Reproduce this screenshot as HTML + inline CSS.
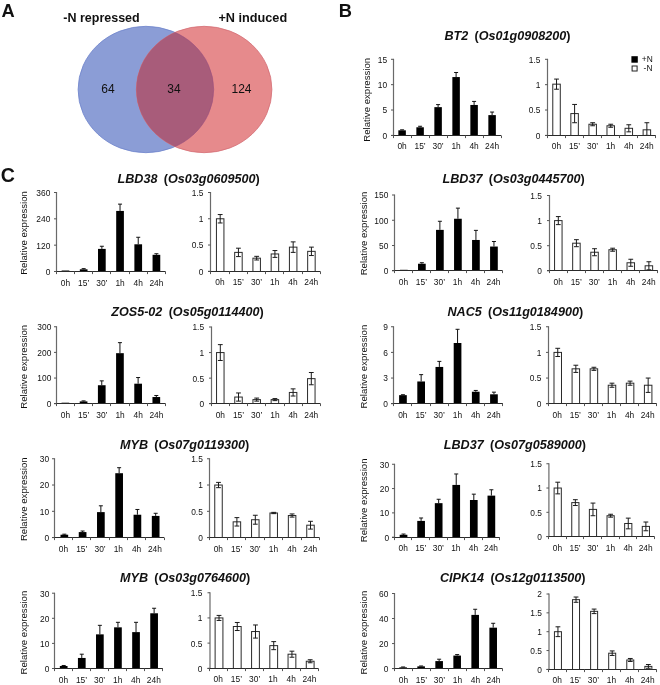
<!DOCTYPE html>
<html><head><meta charset="utf-8"><title>Figure</title>
<style>html,body{margin:0;padding:0;background:#fff;overflow:hidden;}svg{display:block;}</style>
</head><body>
<svg width="660" height="685" viewBox="0 0 660 685" font-family="'Liberation Sans', Arial, sans-serif" fill="#111">
<defs><clipPath id="cb"><ellipse cx="145.9" cy="89.5" rx="67.8" ry="63.2"/></clipPath><clipPath id="cr"><ellipse cx="204.1" cy="89.5" rx="67.8" ry="63.2"/></clipPath></defs>
<ellipse cx="145.9" cy="89.5" rx="67.8" ry="63.2" fill="#8b9dd6" stroke="#6f84cc" stroke-width="0.8"/>
<ellipse cx="204.1" cy="89.5" rx="67.8" ry="63.2" fill="#e68a8c" stroke="#d46f76" stroke-width="0.8"/>
<ellipse cx="204.1" cy="89.5" rx="67.8" ry="63.2" fill="#a85c7a" clip-path="url(#cb)"/>
<ellipse cx="145.9" cy="89.5" rx="67.8" ry="63.2" fill="none" stroke="#9a5080" stroke-width="0.6" clip-path="url(#cr)"/>
<text x="108" y="92.5" font-size="12" text-anchor="middle">64</text>
<text x="174" y="92.5" font-size="12" text-anchor="middle">34</text>
<text x="241.5" y="92.5" font-size="12" text-anchor="middle">124</text>
<text x="101.5" y="22" font-size="12.5" font-weight="bold" text-anchor="middle">-N repressed</text>
<text x="252.8" y="22" font-size="12.7" font-weight="bold" text-anchor="middle">+N induced</text>
<text x="1.6" y="17" font-size="18.3" font-weight="bold">A</text>
<text x="338.8" y="16.8" font-size="18.3" font-weight="bold">B</text>
<text x="0.8" y="181.8" font-size="19.6" font-weight="bold">C</text>
<rect x="631.4" y="56.2" width="6.4" height="6.5" fill="#000"/>
<rect x="632.1" y="66" width="5" height="5" fill="#fff" stroke="#222" stroke-width="1"/>
<text x="641.8" y="62.4" font-size="8.4">+N</text>
<text x="643.6" y="71.2" font-size="8.4">-N</text>
<text x="444.4" y="40" font-size="12.6" font-weight="bold"><tspan font-style="italic">BT2</tspan> (<tspan font-style="italic">Os01g0908200</tspan>)</text>
<rect x="398.35" y="130.33" width="7.5" height="5.17" fill="#000"/>
<path d="M402.1 129.82V130.33M400.1 129.82H404.1" stroke="#111" stroke-width="1" fill="none"/>
<rect x="416.35" y="127.28" width="7.5" height="8.22" fill="#000"/>
<path d="M420.1 126.27V127.28M418.1 126.27H422.1" stroke="#111" stroke-width="1" fill="none"/>
<rect x="434.35" y="107.14" width="7.5" height="28.36" fill="#000"/>
<path d="M438.1 104.6V107.14M436.1 104.6H440.1" stroke="#111" stroke-width="1" fill="none"/>
<rect x="452.35" y="77.06" width="7.5" height="58.44" fill="#000"/>
<path d="M456.1 72.49V77.06M454.1 72.49H458.1" stroke="#111" stroke-width="1" fill="none"/>
<rect x="470.35" y="104.96" width="7.5" height="30.54" fill="#000"/>
<path d="M474.1 101.41V104.96M472.1 101.41H476.1" stroke="#111" stroke-width="1" fill="none"/>
<rect x="488.35" y="115.11" width="7.5" height="20.39" fill="#000"/>
<path d="M492.1 112.06V115.11M490.1 112.06H494.1" stroke="#111" stroke-width="1" fill="none"/>
<path d="M393.5 58.8V135.5" stroke="#6a6a6a" stroke-width="1.2" fill="none"/>
<path d="M391 135.5H501.1" stroke="#2a2a2a" stroke-width="1" fill="none"/>
<path d="M391 135.4H393.5" stroke="#555" stroke-width="1"/>
<text x="387.2" y="138.8" font-size="8.4" text-anchor="end">0</text>
<path d="M391 110.03H393.5" stroke="#555" stroke-width="1"/>
<text x="387.2" y="113.43" font-size="8.4" text-anchor="end">5</text>
<path d="M391 84.67H393.5" stroke="#555" stroke-width="1"/>
<text x="387.2" y="88.07" font-size="8.4" text-anchor="end">10</text>
<path d="M391 59.3H393.5" stroke="#555" stroke-width="1"/>
<text x="387.2" y="62.7" font-size="8.4" text-anchor="end">15</text>
<path d="M393.5 135.5V138.1" stroke="#555" stroke-width="1"/>
<path d="M411.5 135.5V138.1" stroke="#555" stroke-width="1"/>
<path d="M429.5 135.5V138.1" stroke="#555" stroke-width="1"/>
<path d="M447.5 135.5V138.1" stroke="#555" stroke-width="1"/>
<path d="M465.5 135.5V138.1" stroke="#555" stroke-width="1"/>
<path d="M483.5 135.5V138.1" stroke="#555" stroke-width="1"/>
<path d="M501.5 135.5V138.1" stroke="#555" stroke-width="1"/>
<text x="402.1" y="149.4" font-size="8.4" text-anchor="middle">0h</text>
<text x="420.1" y="149.4" font-size="8.4" text-anchor="middle">15’</text>
<text x="438.1" y="149.4" font-size="8.4" text-anchor="middle">30’</text>
<text x="456.1" y="149.4" font-size="8.4" text-anchor="middle">1h</text>
<text x="474.1" y="149.4" font-size="8.4" text-anchor="middle">4h</text>
<text x="492.1" y="149.4" font-size="8.4" text-anchor="middle">24h</text>
<rect x="552.78" y="84.16" width="7.5" height="51.34" fill="#fff" stroke="#2a2a2a" stroke-width="1"/>
<path d="M556.53 79.09V89.23M554.13 79.09H558.93M554.13 89.23H558.93" stroke="#1a1a1a" stroke-width="1" fill="none"/>
<rect x="570.85" y="113.58" width="7.5" height="21.92" fill="#fff" stroke="#2a2a2a" stroke-width="1"/>
<path d="M574.6 104.45V122.72M572.2 104.45H577M572.2 122.72H577" stroke="#1a1a1a" stroke-width="1" fill="none"/>
<rect x="588.92" y="124.24" width="7.5" height="11.26" fill="#fff" stroke="#2a2a2a" stroke-width="1"/>
<path d="M592.67 122.72V125.76M590.27 122.72H595.07M590.27 125.76H595.07" stroke="#1a1a1a" stroke-width="1" fill="none"/>
<rect x="606.98" y="125.76" width="7.5" height="9.74" fill="#fff" stroke="#2a2a2a" stroke-width="1"/>
<path d="M610.73 124.24V127.28M608.33 124.24H613.13M608.33 127.28H613.13" stroke="#1a1a1a" stroke-width="1" fill="none"/>
<rect x="625.05" y="128.3" width="7.5" height="7.2" fill="#fff" stroke="#2a2a2a" stroke-width="1"/>
<path d="M628.8 124.75V131.85M626.4 124.75H631.2M626.4 131.85H631.2" stroke="#1a1a1a" stroke-width="1" fill="none"/>
<rect x="643.12" y="129.82" width="7.5" height="5.68" fill="#fff" stroke="#2a2a2a" stroke-width="1"/>
<path d="M646.87 122.72V135.4M644.47 122.72H649.27M644.47 135.4H649.27" stroke="#1a1a1a" stroke-width="1" fill="none"/>
<path d="M547.5 58.8V135.5" stroke="#6a6a6a" stroke-width="1.2" fill="none"/>
<path d="M545 135.5H655.8" stroke="#2a2a2a" stroke-width="1" fill="none"/>
<path d="M545 135.4H547.5" stroke="#555" stroke-width="1"/>
<text x="540.4" y="138.8" font-size="8.4" text-anchor="end">0</text>
<path d="M545 110.03H547.5" stroke="#555" stroke-width="1"/>
<text x="540.4" y="113.43" font-size="8.4" text-anchor="end">0.5</text>
<path d="M545 84.67H547.5" stroke="#555" stroke-width="1"/>
<text x="540.4" y="88.07" font-size="8.4" text-anchor="end">1</text>
<path d="M545 59.3H547.5" stroke="#555" stroke-width="1"/>
<text x="540.4" y="62.7" font-size="8.4" text-anchor="end">1.5</text>
<path d="M547.5 135.5V138.1" stroke="#555" stroke-width="1"/>
<path d="M565.5 135.5V138.1" stroke="#555" stroke-width="1"/>
<path d="M583.5 135.5V138.1" stroke="#555" stroke-width="1"/>
<path d="M601.5 135.5V138.1" stroke="#555" stroke-width="1"/>
<path d="M619.5 135.5V138.1" stroke="#555" stroke-width="1"/>
<path d="M637.5 135.5V138.1" stroke="#555" stroke-width="1"/>
<path d="M655.5 135.5V138.1" stroke="#555" stroke-width="1"/>
<text x="556.43" y="149.4" font-size="8.4" text-anchor="middle">0h</text>
<text x="574.5" y="149.4" font-size="8.4" text-anchor="middle">15’</text>
<text x="592.57" y="149.4" font-size="8.4" text-anchor="middle">30’</text>
<text x="610.63" y="149.4" font-size="8.4" text-anchor="middle">1h</text>
<text x="628.7" y="149.4" font-size="8.4" text-anchor="middle">4h</text>
<text x="646.77" y="149.4" font-size="8.4" text-anchor="middle">24h</text>
<text transform="translate(369.6 99.8) rotate(-90)" font-size="9.6" text-anchor="middle">Relative expression</text>
<text x="117.5" y="183" font-size="12.6" font-weight="bold"><tspan font-style="italic">LBD38</tspan> (<tspan font-style="italic">Os03g0609500</tspan>)</text>
<rect x="61.64" y="270.5" width="7.7" height="1" fill="#000"/>
<rect x="79.83" y="269.31" width="7.7" height="2.19" fill="#000"/>
<path d="M83.67 268.65V269.31M81.67 268.65H85.67" stroke="#111" stroke-width="1" fill="none"/>
<rect x="98.01" y="248.9" width="7.7" height="22.6" fill="#000"/>
<path d="M101.86 246.26V248.9M99.86 246.26H103.86" stroke="#111" stroke-width="1" fill="none"/>
<rect x="116.19" y="210.93" width="7.7" height="60.57" fill="#000"/>
<path d="M120.04 204.13V210.93M118.04 204.13H122.04" stroke="#111" stroke-width="1" fill="none"/>
<rect x="134.38" y="244.29" width="7.7" height="27.21" fill="#000"/>
<path d="M138.22 237.27V244.29M136.22 237.27H140.22" stroke="#111" stroke-width="1" fill="none"/>
<rect x="152.56" y="254.82" width="7.7" height="16.68" fill="#000"/>
<path d="M156.41 253.72V254.82M154.41 253.72H158.41" stroke="#111" stroke-width="1" fill="none"/>
<path d="M56.5 192V271.5" stroke="#6a6a6a" stroke-width="1.2" fill="none"/>
<path d="M54 271.5H165.5" stroke="#2a2a2a" stroke-width="1" fill="none"/>
<path d="M54 271.5H56.5" stroke="#555" stroke-width="1"/>
<text x="50.3" y="274.9" font-size="8.4" text-anchor="end">0</text>
<path d="M54 245.17H56.5" stroke="#555" stroke-width="1"/>
<text x="50.3" y="248.57" font-size="8.4" text-anchor="end">120</text>
<path d="M54 218.83H56.5" stroke="#555" stroke-width="1"/>
<text x="50.3" y="222.23" font-size="8.4" text-anchor="end">240</text>
<path d="M54 192.5H56.5" stroke="#555" stroke-width="1"/>
<text x="50.3" y="195.9" font-size="8.4" text-anchor="end">360</text>
<path d="M56.5 271.5V274.1" stroke="#555" stroke-width="1"/>
<path d="M74.5 271.5V274.1" stroke="#555" stroke-width="1"/>
<path d="M92.5 271.5V274.1" stroke="#555" stroke-width="1"/>
<path d="M110.5 271.5V274.1" stroke="#555" stroke-width="1"/>
<path d="M129.5 271.5V274.1" stroke="#555" stroke-width="1"/>
<path d="M147.5 271.5V274.1" stroke="#555" stroke-width="1"/>
<path d="M165.5 271.5V274.1" stroke="#555" stroke-width="1"/>
<text x="65.49" y="285.5" font-size="8.4" text-anchor="middle">0h</text>
<text x="83.67" y="285.5" font-size="8.4" text-anchor="middle">15’</text>
<text x="101.86" y="285.5" font-size="8.4" text-anchor="middle">30’</text>
<text x="120.04" y="285.5" font-size="8.4" text-anchor="middle">1h</text>
<text x="138.22" y="285.5" font-size="8.4" text-anchor="middle">4h</text>
<text x="156.41" y="285.5" font-size="8.4" text-anchor="middle">24h</text>
<rect x="216.43" y="218.77" width="7.5" height="52.73" fill="#fff" stroke="#2a2a2a" stroke-width="1"/>
<path d="M220.18 214.56V222.97M217.78 214.56H222.58M217.78 222.97H222.58" stroke="#1a1a1a" stroke-width="1" fill="none"/>
<rect x="234.68" y="252.39" width="7.5" height="19.11" fill="#fff" stroke="#2a2a2a" stroke-width="1"/>
<path d="M238.43 248.19V256.59M236.03 248.19H240.83M236.03 256.59H240.83" stroke="#1a1a1a" stroke-width="1" fill="none"/>
<rect x="252.92" y="258.17" width="7.5" height="13.33" fill="#fff" stroke="#2a2a2a" stroke-width="1"/>
<path d="M256.67 256.33V260.01M254.27 256.33H259.07M254.27 260.01H259.07" stroke="#1a1a1a" stroke-width="1" fill="none"/>
<rect x="271.17" y="253.96" width="7.5" height="17.54" fill="#fff" stroke="#2a2a2a" stroke-width="1"/>
<path d="M274.92 250.55V257.38M272.52 250.55H277.32M272.52 257.38H277.32" stroke="#1a1a1a" stroke-width="1" fill="none"/>
<rect x="289.42" y="247.13" width="7.5" height="24.37" fill="#fff" stroke="#2a2a2a" stroke-width="1"/>
<path d="M293.17 241.88V252.39M290.77 241.88H295.57M290.77 252.39H295.57" stroke="#1a1a1a" stroke-width="1" fill="none"/>
<rect x="307.67" y="251.34" width="7.5" height="20.16" fill="#fff" stroke="#2a2a2a" stroke-width="1"/>
<path d="M311.42 247.13V255.54M309.02 247.13H313.82M309.02 255.54H313.82" stroke="#1a1a1a" stroke-width="1" fill="none"/>
<path d="M210.5 192V271.5" stroke="#6a6a6a" stroke-width="1.2" fill="none"/>
<path d="M208 271.5H320.4" stroke="#2a2a2a" stroke-width="1" fill="none"/>
<path d="M208 271.3H210.5" stroke="#555" stroke-width="1"/>
<text x="203.5" y="274.7" font-size="8.4" text-anchor="end">0</text>
<path d="M208 245.03H210.5" stroke="#555" stroke-width="1"/>
<text x="203.5" y="248.43" font-size="8.4" text-anchor="end">0.5</text>
<path d="M208 218.77H210.5" stroke="#555" stroke-width="1"/>
<text x="203.5" y="222.17" font-size="8.4" text-anchor="end">1</text>
<path d="M208 192.5H210.5" stroke="#555" stroke-width="1"/>
<text x="203.5" y="195.9" font-size="8.4" text-anchor="end">1.5</text>
<path d="M210.5 271.5V274.1" stroke="#555" stroke-width="1"/>
<path d="M229.5 271.5V274.1" stroke="#555" stroke-width="1"/>
<path d="M247.5 271.5V274.1" stroke="#555" stroke-width="1"/>
<path d="M265.5 271.5V274.1" stroke="#555" stroke-width="1"/>
<path d="M283.5 271.5V274.1" stroke="#555" stroke-width="1"/>
<path d="M302.5 271.5V274.1" stroke="#555" stroke-width="1"/>
<path d="M320.5 271.5V274.1" stroke="#555" stroke-width="1"/>
<text x="220.03" y="285.3" font-size="8.4" text-anchor="middle">0h</text>
<text x="238.28" y="285.3" font-size="8.4" text-anchor="middle">15’</text>
<text x="256.52" y="285.3" font-size="8.4" text-anchor="middle">30’</text>
<text x="274.77" y="285.3" font-size="8.4" text-anchor="middle">1h</text>
<text x="293.02" y="285.3" font-size="8.4" text-anchor="middle">4h</text>
<text x="311.27" y="285.3" font-size="8.4" text-anchor="middle">24h</text>
<text transform="translate(27.3 233) rotate(-90)" font-size="9.6" text-anchor="middle">Relative expression</text>
<text x="442.5" y="183" font-size="12.6" font-weight="bold"><tspan font-style="italic">LBD37</tspan> (<tspan font-style="italic">Os03g0445700</tspan>)</text>
<rect x="400.01" y="269.8" width="7.7" height="0.7" fill="#000"/>
<rect x="418.02" y="263.73" width="7.7" height="6.77" fill="#000"/>
<path d="M421.87 262.71V263.73M419.87 262.71H423.87" stroke="#111" stroke-width="1" fill="none"/>
<rect x="436.04" y="229.87" width="7.7" height="40.63" fill="#000"/>
<path d="M439.89 221.28V229.87M437.89 221.28H441.89" stroke="#111" stroke-width="1" fill="none"/>
<rect x="454.06" y="218.75" width="7.7" height="51.75" fill="#000"/>
<path d="M457.91 208.14V218.75M455.91 208.14H459.91" stroke="#111" stroke-width="1" fill="none"/>
<rect x="472.07" y="239.97" width="7.7" height="30.53" fill="#000"/>
<path d="M475.93 230.37V239.97M473.93 230.37H477.93" stroke="#111" stroke-width="1" fill="none"/>
<rect x="490.09" y="246.54" width="7.7" height="23.96" fill="#000"/>
<path d="M493.94 241.49V246.54M491.94 241.49H495.94" stroke="#111" stroke-width="1" fill="none"/>
<path d="M394.5 194.5V270.5" stroke="#6a6a6a" stroke-width="1.2" fill="none"/>
<path d="M392 270.5H502.5" stroke="#2a2a2a" stroke-width="1" fill="none"/>
<path d="M392 270.8H394.5" stroke="#555" stroke-width="1"/>
<text x="388.3" y="274.2" font-size="8.4" text-anchor="end">0</text>
<path d="M392 245.53H394.5" stroke="#555" stroke-width="1"/>
<text x="388.3" y="248.93" font-size="8.4" text-anchor="end">50</text>
<path d="M392 220.27H394.5" stroke="#555" stroke-width="1"/>
<text x="388.3" y="223.67" font-size="8.4" text-anchor="end">100</text>
<path d="M392 195H394.5" stroke="#555" stroke-width="1"/>
<text x="388.3" y="198.4" font-size="8.4" text-anchor="end">150</text>
<path d="M394.5 270.5V273.1" stroke="#555" stroke-width="1"/>
<path d="M412.5 270.5V273.1" stroke="#555" stroke-width="1"/>
<path d="M430.5 270.5V273.1" stroke="#555" stroke-width="1"/>
<path d="M448.5 270.5V273.1" stroke="#555" stroke-width="1"/>
<path d="M466.5 270.5V273.1" stroke="#555" stroke-width="1"/>
<path d="M484.5 270.5V273.1" stroke="#555" stroke-width="1"/>
<path d="M502.5 270.5V273.1" stroke="#555" stroke-width="1"/>
<text x="403.41" y="284.8" font-size="8.4" text-anchor="middle">0h</text>
<text x="421.42" y="284.8" font-size="8.4" text-anchor="middle">15’</text>
<text x="439.44" y="284.8" font-size="8.4" text-anchor="middle">30’</text>
<text x="457.46" y="284.8" font-size="8.4" text-anchor="middle">1h</text>
<text x="475.48" y="284.8" font-size="8.4" text-anchor="middle">4h</text>
<text x="493.49" y="284.8" font-size="8.4" text-anchor="middle">24h</text>
<rect x="554.56" y="220.6" width="7.5" height="49.9" fill="#fff" stroke="#2a2a2a" stroke-width="1"/>
<path d="M558.31 216.58V224.62M555.91 216.58H560.71M555.91 224.62H560.71" stroke="#1a1a1a" stroke-width="1" fill="none"/>
<rect x="572.67" y="243.19" width="7.5" height="27.31" fill="#fff" stroke="#2a2a2a" stroke-width="1"/>
<path d="M576.42 239.68V246.7M574.02 239.68H578.82M574.02 246.7H578.82" stroke="#1a1a1a" stroke-width="1" fill="none"/>
<rect x="590.79" y="252.23" width="7.5" height="18.27" fill="#fff" stroke="#2a2a2a" stroke-width="1"/>
<path d="M594.54 248.71V255.74M592.14 248.71H596.94M592.14 255.74H596.94" stroke="#1a1a1a" stroke-width="1" fill="none"/>
<rect x="608.91" y="249.72" width="7.5" height="20.78" fill="#fff" stroke="#2a2a2a" stroke-width="1"/>
<path d="M612.66 248.21V251.22M610.26 248.21H615.06M610.26 251.22H615.06" stroke="#1a1a1a" stroke-width="1" fill="none"/>
<rect x="627.02" y="262.77" width="7.5" height="7.73" fill="#fff" stroke="#2a2a2a" stroke-width="1"/>
<path d="M630.77 259.25V266.28M628.38 259.25H633.17M628.38 266.28H633.17" stroke="#1a1a1a" stroke-width="1" fill="none"/>
<rect x="645.14" y="265.78" width="7.5" height="4.72" fill="#fff" stroke="#2a2a2a" stroke-width="1"/>
<path d="M648.89 261.76V269.8M646.49 261.76H651.29M646.49 269.8H651.29" stroke="#1a1a1a" stroke-width="1" fill="none"/>
<path d="M549.5 195V270.5" stroke="#6a6a6a" stroke-width="1.2" fill="none"/>
<path d="M547 270.5H657.8" stroke="#2a2a2a" stroke-width="1" fill="none"/>
<path d="M547 270.8H549.5" stroke="#555" stroke-width="1"/>
<text x="542" y="274.2" font-size="8.4" text-anchor="end">0</text>
<path d="M547 245.7H549.5" stroke="#555" stroke-width="1"/>
<text x="542" y="249.1" font-size="8.4" text-anchor="end">0.5</text>
<path d="M547 220.6H549.5" stroke="#555" stroke-width="1"/>
<text x="542" y="224" font-size="8.4" text-anchor="end">1</text>
<path d="M547 195.5H549.5" stroke="#555" stroke-width="1"/>
<text x="542" y="198.9" font-size="8.4" text-anchor="end">1.5</text>
<path d="M549.5 270.5V273.1" stroke="#555" stroke-width="1"/>
<path d="M567.5 270.5V273.1" stroke="#555" stroke-width="1"/>
<path d="M585.5 270.5V273.1" stroke="#555" stroke-width="1"/>
<path d="M603.5 270.5V273.1" stroke="#555" stroke-width="1"/>
<path d="M621.5 270.5V273.1" stroke="#555" stroke-width="1"/>
<path d="M639.5 270.5V273.1" stroke="#555" stroke-width="1"/>
<path d="M657.5 270.5V273.1" stroke="#555" stroke-width="1"/>
<text x="558.16" y="284.8" font-size="8.4" text-anchor="middle">0h</text>
<text x="576.27" y="284.8" font-size="8.4" text-anchor="middle">15’</text>
<text x="594.39" y="284.8" font-size="8.4" text-anchor="middle">30’</text>
<text x="612.51" y="284.8" font-size="8.4" text-anchor="middle">1h</text>
<text x="630.62" y="284.8" font-size="8.4" text-anchor="middle">4h</text>
<text x="648.74" y="284.8" font-size="8.4" text-anchor="middle">24h</text>
<text transform="translate(366.8 233.5) rotate(-90)" font-size="9.6" text-anchor="middle">Relative expression</text>
<text x="111.25" y="316" font-size="12.6" font-weight="bold"><tspan font-style="italic">ZOS5-02</tspan> (<tspan font-style="italic">Os05g0114400</tspan>)</text>
<rect x="61.54" y="402.7" width="7.7" height="0.8" fill="#000"/>
<rect x="79.73" y="401.39" width="7.7" height="2.11" fill="#000"/>
<path d="M83.58 400.88V401.39M81.58 400.88H85.58" stroke="#111" stroke-width="1" fill="none"/>
<rect x="97.91" y="385.23" width="7.7" height="18.27" fill="#000"/>
<path d="M101.76 380.87V385.23M99.76 380.87H103.76" stroke="#111" stroke-width="1" fill="none"/>
<rect x="116.09" y="353.17" width="7.7" height="50.33" fill="#000"/>
<path d="M119.94 342.65V353.17M117.94 342.65H121.94" stroke="#111" stroke-width="1" fill="none"/>
<rect x="134.28" y="383.69" width="7.7" height="19.81" fill="#000"/>
<path d="M138.12 377.54V383.69M136.12 377.54H140.12" stroke="#111" stroke-width="1" fill="none"/>
<rect x="152.46" y="397.03" width="7.7" height="6.47" fill="#000"/>
<path d="M156.31 395.49V397.03M154.31 395.49H158.31" stroke="#111" stroke-width="1" fill="none"/>
<path d="M56.5 326.25V403.5" stroke="#6a6a6a" stroke-width="1.2" fill="none"/>
<path d="M54 403.5H165.5" stroke="#2a2a2a" stroke-width="1" fill="none"/>
<path d="M54 403.7H56.5" stroke="#555" stroke-width="1"/>
<text x="51.3" y="407.1" font-size="8.4" text-anchor="end">0</text>
<path d="M54 378.05H56.5" stroke="#555" stroke-width="1"/>
<text x="51.3" y="381.45" font-size="8.4" text-anchor="end">100</text>
<path d="M54 352.4H56.5" stroke="#555" stroke-width="1"/>
<text x="51.3" y="355.8" font-size="8.4" text-anchor="end">200</text>
<path d="M54 326.75H56.5" stroke="#555" stroke-width="1"/>
<text x="51.3" y="330.15" font-size="8.4" text-anchor="end">300</text>
<path d="M56.5 403.5V406.1" stroke="#555" stroke-width="1"/>
<path d="M74.5 403.5V406.1" stroke="#555" stroke-width="1"/>
<path d="M92.5 403.5V406.1" stroke="#555" stroke-width="1"/>
<path d="M110.5 403.5V406.1" stroke="#555" stroke-width="1"/>
<path d="M129.5 403.5V406.1" stroke="#555" stroke-width="1"/>
<path d="M147.5 403.5V406.1" stroke="#555" stroke-width="1"/>
<path d="M165.5 403.5V406.1" stroke="#555" stroke-width="1"/>
<text x="65.49" y="417.7" font-size="8.4" text-anchor="middle">0h</text>
<text x="83.67" y="417.7" font-size="8.4" text-anchor="middle">15’</text>
<text x="101.86" y="417.7" font-size="8.4" text-anchor="middle">30’</text>
<text x="120.04" y="417.7" font-size="8.4" text-anchor="middle">1h</text>
<text x="138.22" y="417.7" font-size="8.4" text-anchor="middle">4h</text>
<text x="156.41" y="417.7" font-size="8.4" text-anchor="middle">24h</text>
<rect x="216.55" y="352.57" width="7.5" height="50.93" fill="#fff" stroke="#2a2a2a" stroke-width="1"/>
<path d="M220.3 344.64V360.49M217.9 344.64H222.7M217.9 360.49H222.7" stroke="#1a1a1a" stroke-width="1" fill="none"/>
<rect x="234.75" y="397.05" width="7.5" height="6.45" fill="#fff" stroke="#2a2a2a" stroke-width="1"/>
<path d="M238.5 392.96V401.14M236.1 392.96H240.9M236.1 401.14H240.9" stroke="#1a1a1a" stroke-width="1" fill="none"/>
<rect x="252.95" y="399.61" width="7.5" height="3.89" fill="#fff" stroke="#2a2a2a" stroke-width="1"/>
<path d="M256.7 398.08V401.14M254.3 398.08H259.1M254.3 401.14H259.1" stroke="#1a1a1a" stroke-width="1" fill="none"/>
<rect x="271.15" y="399.61" width="7.5" height="3.89" fill="#fff" stroke="#2a2a2a" stroke-width="1"/>
<path d="M274.9 398.59V400.63M272.5 398.59H277.3M272.5 400.63H277.3" stroke="#1a1a1a" stroke-width="1" fill="none"/>
<rect x="289.35" y="392.45" width="7.5" height="11.05" fill="#fff" stroke="#2a2a2a" stroke-width="1"/>
<path d="M293.1 388.87V396.03M290.7 388.87H295.5M290.7 396.03H295.5" stroke="#1a1a1a" stroke-width="1" fill="none"/>
<rect x="307.55" y="378.64" width="7.5" height="24.86" fill="#fff" stroke="#2a2a2a" stroke-width="1"/>
<path d="M311.3 372.51V384.78M308.9 372.51H313.7M308.9 384.78H313.7" stroke="#1a1a1a" stroke-width="1" fill="none"/>
<path d="M211.5 326.5V403.5" stroke="#6a6a6a" stroke-width="1.2" fill="none"/>
<path d="M209 403.5H320.4" stroke="#2a2a2a" stroke-width="1" fill="none"/>
<path d="M209 403.7H211.5" stroke="#555" stroke-width="1"/>
<text x="204.1" y="407.1" font-size="8.4" text-anchor="end">0</text>
<path d="M209 378.13H211.5" stroke="#555" stroke-width="1"/>
<text x="204.1" y="381.53" font-size="8.4" text-anchor="end">0.5</text>
<path d="M209 352.57H211.5" stroke="#555" stroke-width="1"/>
<text x="204.1" y="355.97" font-size="8.4" text-anchor="end">1</text>
<path d="M209 327H211.5" stroke="#555" stroke-width="1"/>
<text x="204.1" y="330.4" font-size="8.4" text-anchor="end">1.5</text>
<path d="M211.5 403.5V406.1" stroke="#555" stroke-width="1"/>
<path d="M229.5 403.5V406.1" stroke="#555" stroke-width="1"/>
<path d="M247.5 403.5V406.1" stroke="#555" stroke-width="1"/>
<path d="M265.5 403.5V406.1" stroke="#555" stroke-width="1"/>
<path d="M284.5 403.5V406.1" stroke="#555" stroke-width="1"/>
<path d="M302.5 403.5V406.1" stroke="#555" stroke-width="1"/>
<path d="M320.5 403.5V406.1" stroke="#555" stroke-width="1"/>
<text x="220.3" y="417.7" font-size="8.4" text-anchor="middle">0h</text>
<text x="238.5" y="417.7" font-size="8.4" text-anchor="middle">15’</text>
<text x="256.7" y="417.7" font-size="8.4" text-anchor="middle">30’</text>
<text x="274.9" y="417.7" font-size="8.4" text-anchor="middle">1h</text>
<text x="293.1" y="417.7" font-size="8.4" text-anchor="middle">4h</text>
<text x="311.3" y="417.7" font-size="8.4" text-anchor="middle">24h</text>
<text transform="translate(27.3 366.8) rotate(-90)" font-size="9.6" text-anchor="middle">Relative expression</text>
<text x="447.5" y="316" font-size="12.6" font-weight="bold"><tspan font-style="italic">NAC5</tspan> (<tspan font-style="italic">Os11g0184900</tspan>)</text>
<rect x="399.1" y="395.15" width="7.7" height="8.35" fill="#000"/>
<path d="M402.95 394.72V395.15M400.95 394.72H404.95" stroke="#111" stroke-width="1" fill="none"/>
<rect x="417.3" y="381.47" width="7.7" height="22.03" fill="#000"/>
<path d="M421.15 374.63V381.47M419.15 374.63H423.15" stroke="#111" stroke-width="1" fill="none"/>
<rect x="435.5" y="366.94" width="7.7" height="36.56" fill="#000"/>
<path d="M439.35 361.38V366.94M437.35 361.38H441.35" stroke="#111" stroke-width="1" fill="none"/>
<rect x="453.7" y="343" width="7.7" height="60.5" fill="#000"/>
<path d="M457.55 329.31V343M455.55 329.31H459.55" stroke="#111" stroke-width="1" fill="none"/>
<rect x="471.9" y="391.73" width="7.7" height="11.77" fill="#000"/>
<path d="M475.75 390.45V391.73M473.75 390.45H477.75" stroke="#111" stroke-width="1" fill="none"/>
<rect x="490.1" y="394.3" width="7.7" height="9.2" fill="#000"/>
<path d="M493.95 392.16V394.3M491.95 392.16H495.95" stroke="#111" stroke-width="1" fill="none"/>
<path d="M393.5 326.25V403.5" stroke="#6a6a6a" stroke-width="1.2" fill="none"/>
<path d="M391 403.5H502.9" stroke="#2a2a2a" stroke-width="1" fill="none"/>
<path d="M391 403.7H393.5" stroke="#555" stroke-width="1"/>
<text x="388" y="407.1" font-size="8.4" text-anchor="end">0</text>
<path d="M391 378.05H393.5" stroke="#555" stroke-width="1"/>
<text x="388" y="381.45" font-size="8.4" text-anchor="end">3</text>
<path d="M391 352.4H393.5" stroke="#555" stroke-width="1"/>
<text x="388" y="355.8" font-size="8.4" text-anchor="end">6</text>
<path d="M391 326.75H393.5" stroke="#555" stroke-width="1"/>
<text x="388" y="330.15" font-size="8.4" text-anchor="end">9</text>
<path d="M393.5 403.5V406.1" stroke="#555" stroke-width="1"/>
<path d="M411.5 403.5V406.1" stroke="#555" stroke-width="1"/>
<path d="M430.5 403.5V406.1" stroke="#555" stroke-width="1"/>
<path d="M448.5 403.5V406.1" stroke="#555" stroke-width="1"/>
<path d="M466.5 403.5V406.1" stroke="#555" stroke-width="1"/>
<path d="M484.5 403.5V406.1" stroke="#555" stroke-width="1"/>
<path d="M502.5 403.5V406.1" stroke="#555" stroke-width="1"/>
<text x="402.8" y="417.7" font-size="8.4" text-anchor="middle">0h</text>
<text x="421" y="417.7" font-size="8.4" text-anchor="middle">15’</text>
<text x="439.2" y="417.7" font-size="8.4" text-anchor="middle">30’</text>
<text x="457.4" y="417.7" font-size="8.4" text-anchor="middle">1h</text>
<text x="475.6" y="417.7" font-size="8.4" text-anchor="middle">4h</text>
<text x="493.8" y="417.7" font-size="8.4" text-anchor="middle">24h</text>
<rect x="553.99" y="352.4" width="7.5" height="51.1" fill="#fff" stroke="#2a2a2a" stroke-width="1"/>
<path d="M557.74 348.3V356.5M555.34 348.3H560.14M555.34 356.5H560.14" stroke="#1a1a1a" stroke-width="1" fill="none"/>
<rect x="572.08" y="368.82" width="7.5" height="34.68" fill="#fff" stroke="#2a2a2a" stroke-width="1"/>
<path d="M575.83 365.23V372.41M573.43 365.23H578.23M573.43 372.41H578.23" stroke="#1a1a1a" stroke-width="1" fill="none"/>
<rect x="590.16" y="368.82" width="7.5" height="34.68" fill="#fff" stroke="#2a2a2a" stroke-width="1"/>
<path d="M593.91 367.28V370.36M591.51 367.28H596.31M591.51 370.36H596.31" stroke="#1a1a1a" stroke-width="1" fill="none"/>
<rect x="608.24" y="385.23" width="7.5" height="18.27" fill="#fff" stroke="#2a2a2a" stroke-width="1"/>
<path d="M611.99 383.18V387.28M609.59 383.18H614.39M609.59 387.28H614.39" stroke="#1a1a1a" stroke-width="1" fill="none"/>
<rect x="626.33" y="383.18" width="7.5" height="20.32" fill="#fff" stroke="#2a2a2a" stroke-width="1"/>
<path d="M630.08 381.13V385.23M627.68 381.13H632.48M627.68 385.23H632.48" stroke="#1a1a1a" stroke-width="1" fill="none"/>
<rect x="644.41" y="385.23" width="7.5" height="18.27" fill="#fff" stroke="#2a2a2a" stroke-width="1"/>
<path d="M648.16 378.05V392.41M645.76 378.05H650.56M645.76 392.41H650.56" stroke="#1a1a1a" stroke-width="1" fill="none"/>
<path d="M548.5 326.25V403.5" stroke="#6a6a6a" stroke-width="1.2" fill="none"/>
<path d="M546 403.5H656.7" stroke="#2a2a2a" stroke-width="1" fill="none"/>
<path d="M546 403.7H548.5" stroke="#555" stroke-width="1"/>
<text x="541.5" y="407.1" font-size="8.4" text-anchor="end">0</text>
<path d="M546 378.05H548.5" stroke="#555" stroke-width="1"/>
<text x="541.5" y="381.45" font-size="8.4" text-anchor="end">0.5</text>
<path d="M546 352.4H548.5" stroke="#555" stroke-width="1"/>
<text x="541.5" y="355.8" font-size="8.4" text-anchor="end">1</text>
<path d="M546 326.75H548.5" stroke="#555" stroke-width="1"/>
<text x="541.5" y="330.15" font-size="8.4" text-anchor="end">1.5</text>
<path d="M548.5 403.5V406.1" stroke="#555" stroke-width="1"/>
<path d="M566.5 403.5V406.1" stroke="#555" stroke-width="1"/>
<path d="M584.5 403.5V406.1" stroke="#555" stroke-width="1"/>
<path d="M602.5 403.5V406.1" stroke="#555" stroke-width="1"/>
<path d="M620.5 403.5V406.1" stroke="#555" stroke-width="1"/>
<path d="M638.5 403.5V406.1" stroke="#555" stroke-width="1"/>
<path d="M656.5 403.5V406.1" stroke="#555" stroke-width="1"/>
<text x="557.24" y="417.7" font-size="8.4" text-anchor="middle">0h</text>
<text x="575.33" y="417.7" font-size="8.4" text-anchor="middle">15’</text>
<text x="593.41" y="417.7" font-size="8.4" text-anchor="middle">30’</text>
<text x="611.49" y="417.7" font-size="8.4" text-anchor="middle">1h</text>
<text x="629.58" y="417.7" font-size="8.4" text-anchor="middle">4h</text>
<text x="647.66" y="417.7" font-size="8.4" text-anchor="middle">24h</text>
<text transform="translate(366.8 366.6) rotate(-90)" font-size="9.6" text-anchor="middle">Relative expression</text>
<text x="120" y="448.5" font-size="12.6" font-weight="bold"><tspan font-style="italic">MYB</tspan> (<tspan font-style="italic">Os07g0119300</tspan>)</text>
<rect x="60.48" y="534.71" width="7.7" height="2.79" fill="#000"/>
<path d="M64.33 534.18V534.71M62.33 534.18H66.33" stroke="#111" stroke-width="1" fill="none"/>
<rect x="78.75" y="532.08" width="7.7" height="5.42" fill="#000"/>
<path d="M82.6 531.03V532.08M80.6 531.03H84.6" stroke="#111" stroke-width="1" fill="none"/>
<rect x="97.02" y="512.11" width="7.7" height="25.39" fill="#000"/>
<path d="M100.87 505.8V512.11M98.87 505.8H102.87" stroke="#111" stroke-width="1" fill="none"/>
<rect x="115.28" y="473.21" width="7.7" height="64.29" fill="#000"/>
<path d="M119.13 467.69V473.21M117.13 467.69H121.13" stroke="#111" stroke-width="1" fill="none"/>
<rect x="133.55" y="514.73" width="7.7" height="22.77" fill="#000"/>
<path d="M137.4 509.48V514.73M135.4 509.48H139.4" stroke="#111" stroke-width="1" fill="none"/>
<rect x="151.82" y="515.92" width="7.7" height="21.58" fill="#000"/>
<path d="M155.67 513.29V515.92M153.67 513.29H157.67" stroke="#111" stroke-width="1" fill="none"/>
<path d="M54.5 458.25V537.5" stroke="#6a6a6a" stroke-width="1.2" fill="none"/>
<path d="M52 537.5H164" stroke="#2a2a2a" stroke-width="1" fill="none"/>
<path d="M52 537.6H54.5" stroke="#555" stroke-width="1"/>
<text x="49.05" y="541" font-size="8.4" text-anchor="end">0</text>
<path d="M52 511.32H54.5" stroke="#555" stroke-width="1"/>
<text x="49.05" y="514.72" font-size="8.4" text-anchor="end">10</text>
<path d="M52 485.03H54.5" stroke="#555" stroke-width="1"/>
<text x="49.05" y="488.43" font-size="8.4" text-anchor="end">20</text>
<path d="M52 458.75H54.5" stroke="#555" stroke-width="1"/>
<text x="49.05" y="462.15" font-size="8.4" text-anchor="end">30</text>
<path d="M54.5 537.5V540.1" stroke="#555" stroke-width="1"/>
<path d="M72.5 537.5V540.1" stroke="#555" stroke-width="1"/>
<path d="M90.5 537.5V540.1" stroke="#555" stroke-width="1"/>
<path d="M109.5 537.5V540.1" stroke="#555" stroke-width="1"/>
<path d="M127.5 537.5V540.1" stroke="#555" stroke-width="1"/>
<path d="M145.5 537.5V540.1" stroke="#555" stroke-width="1"/>
<path d="M164.5 537.5V540.1" stroke="#555" stroke-width="1"/>
<text x="63.53" y="551.6" font-size="8.4" text-anchor="middle">0h</text>
<text x="81.8" y="551.6" font-size="8.4" text-anchor="middle">15’</text>
<text x="100.07" y="551.6" font-size="8.4" text-anchor="middle">30’</text>
<text x="118.33" y="551.6" font-size="8.4" text-anchor="middle">1h</text>
<text x="136.6" y="551.6" font-size="8.4" text-anchor="middle">4h</text>
<text x="154.87" y="551.6" font-size="8.4" text-anchor="middle">24h</text>
<rect x="214.75" y="485.03" width="7.5" height="52.47" fill="#fff" stroke="#2a2a2a" stroke-width="1"/>
<path d="M218.5 482.4V487.66M216.1 482.4H220.9M216.1 487.66H220.9" stroke="#1a1a1a" stroke-width="1" fill="none"/>
<rect x="233.15" y="521.83" width="7.5" height="15.67" fill="#fff" stroke="#2a2a2a" stroke-width="1"/>
<path d="M236.9 517.62V526.04M234.5 517.62H239.3M234.5 526.04H239.3" stroke="#1a1a1a" stroke-width="1" fill="none"/>
<rect x="251.55" y="519.73" width="7.5" height="17.77" fill="#fff" stroke="#2a2a2a" stroke-width="1"/>
<path d="M255.3 515.26V524.2M252.9 515.26H257.7M252.9 524.2H257.7" stroke="#1a1a1a" stroke-width="1" fill="none"/>
<rect x="269.95" y="513" width="7.5" height="24.5" fill="#fff" stroke="#2a2a2a" stroke-width="1"/>
<path d="M273.7 512.37V513.63M271.3 512.37H276.1M271.3 513.63H276.1" stroke="#1a1a1a" stroke-width="1" fill="none"/>
<rect x="288.35" y="515.52" width="7.5" height="21.98" fill="#fff" stroke="#2a2a2a" stroke-width="1"/>
<path d="M292.1 513.95V517.1M289.7 513.95H294.5M289.7 517.1H294.5" stroke="#1a1a1a" stroke-width="1" fill="none"/>
<rect x="306.75" y="525.19" width="7.5" height="12.31" fill="#fff" stroke="#2a2a2a" stroke-width="1"/>
<path d="M310.5 521.3V529.08M308.1 521.3H312.9M308.1 529.08H312.9" stroke="#1a1a1a" stroke-width="1" fill="none"/>
<path d="M209.5 458.25V537.5" stroke="#6a6a6a" stroke-width="1.2" fill="none"/>
<path d="M207 537.5H319.5" stroke="#2a2a2a" stroke-width="1" fill="none"/>
<path d="M207 537.6H209.5" stroke="#555" stroke-width="1"/>
<text x="202.8" y="541" font-size="8.4" text-anchor="end">0</text>
<path d="M207 511.32H209.5" stroke="#555" stroke-width="1"/>
<text x="202.8" y="514.72" font-size="8.4" text-anchor="end">0.5</text>
<path d="M207 485.03H209.5" stroke="#555" stroke-width="1"/>
<text x="202.8" y="488.43" font-size="8.4" text-anchor="end">1</text>
<path d="M207 458.75H209.5" stroke="#555" stroke-width="1"/>
<text x="202.8" y="462.15" font-size="8.4" text-anchor="end">1.5</text>
<path d="M209.5 537.5V540.1" stroke="#555" stroke-width="1"/>
<path d="M227.5 537.5V540.1" stroke="#555" stroke-width="1"/>
<path d="M245.5 537.5V540.1" stroke="#555" stroke-width="1"/>
<path d="M264.5 537.5V540.1" stroke="#555" stroke-width="1"/>
<path d="M282.5 537.5V540.1" stroke="#555" stroke-width="1"/>
<path d="M301.5 537.5V540.1" stroke="#555" stroke-width="1"/>
<path d="M319.5 537.5V540.1" stroke="#555" stroke-width="1"/>
<text x="218.3" y="551.6" font-size="8.4" text-anchor="middle">0h</text>
<text x="236.7" y="551.6" font-size="8.4" text-anchor="middle">15’</text>
<text x="255.1" y="551.6" font-size="8.4" text-anchor="middle">30’</text>
<text x="273.5" y="551.6" font-size="8.4" text-anchor="middle">1h</text>
<text x="291.9" y="551.6" font-size="8.4" text-anchor="middle">4h</text>
<text x="310.3" y="551.6" font-size="8.4" text-anchor="middle">24h</text>
<text transform="translate(27.3 499.2) rotate(-90)" font-size="9.6" text-anchor="middle">Relative expression</text>
<text x="443.75" y="448.5" font-size="12.6" font-weight="bold"><tspan font-style="italic">LBD37</tspan> (<tspan font-style="italic">Os07g0589000</tspan>)</text>
<rect x="399.68" y="534.77" width="7.7" height="2.73" fill="#000"/>
<path d="M403.53 534.04V534.77M401.53 534.04H405.53" stroke="#111" stroke-width="1" fill="none"/>
<rect x="417.25" y="520.91" width="7.7" height="16.59" fill="#000"/>
<path d="M421.1 517.99V520.91M419.1 517.99H423.1" stroke="#111" stroke-width="1" fill="none"/>
<rect x="434.82" y="503.16" width="7.7" height="34.34" fill="#000"/>
<path d="M438.67 499.27V503.16M436.67 499.27H440.67" stroke="#111" stroke-width="1" fill="none"/>
<rect x="452.38" y="484.92" width="7.7" height="52.58" fill="#000"/>
<path d="M456.23 473.98V484.92M454.23 473.98H458.23" stroke="#111" stroke-width="1" fill="none"/>
<rect x="469.95" y="500" width="7.7" height="37.5" fill="#000"/>
<path d="M473.8 494.16V500M471.8 494.16H475.8" stroke="#111" stroke-width="1" fill="none"/>
<rect x="487.52" y="495.62" width="7.7" height="41.88" fill="#000"/>
<path d="M491.37 489.78V495.62M489.37 489.78H493.37" stroke="#111" stroke-width="1" fill="none"/>
<path d="M394.5 463.75V537.5" stroke="#6a6a6a" stroke-width="1.2" fill="none"/>
<path d="M392 537.5H499.8" stroke="#2a2a2a" stroke-width="1" fill="none"/>
<path d="M392 537.2H394.5" stroke="#555" stroke-width="1"/>
<text x="389.05" y="540.6" font-size="8.4" text-anchor="end">0</text>
<path d="M392 512.88H394.5" stroke="#555" stroke-width="1"/>
<text x="389.05" y="516.28" font-size="8.4" text-anchor="end">10</text>
<path d="M392 488.57H394.5" stroke="#555" stroke-width="1"/>
<text x="389.05" y="491.97" font-size="8.4" text-anchor="end">20</text>
<path d="M392 464.25H394.5" stroke="#555" stroke-width="1"/>
<text x="389.05" y="467.65" font-size="8.4" text-anchor="end">30</text>
<path d="M394.5 537.5V540.1" stroke="#555" stroke-width="1"/>
<path d="M411.5 537.5V540.1" stroke="#555" stroke-width="1"/>
<path d="M429.5 537.5V540.1" stroke="#555" stroke-width="1"/>
<path d="M447.5 537.5V540.1" stroke="#555" stroke-width="1"/>
<path d="M464.5 537.5V540.1" stroke="#555" stroke-width="1"/>
<path d="M482.5 537.5V540.1" stroke="#555" stroke-width="1"/>
<path d="M499.5 537.5V540.1" stroke="#555" stroke-width="1"/>
<text x="403.18" y="551.2" font-size="8.4" text-anchor="middle">0h</text>
<text x="420.75" y="551.2" font-size="8.4" text-anchor="middle">15’</text>
<text x="438.32" y="551.2" font-size="8.4" text-anchor="middle">30’</text>
<text x="455.88" y="551.2" font-size="8.4" text-anchor="middle">1h</text>
<text x="473.45" y="551.2" font-size="8.4" text-anchor="middle">4h</text>
<text x="491.02" y="551.2" font-size="8.4" text-anchor="middle">24h</text>
<rect x="554.12" y="488.03" width="7.2" height="48.47" fill="#fff" stroke="#2a2a2a" stroke-width="1"/>
<path d="M557.72 482.21V493.86M555.32 482.21H560.12M555.32 493.86H560.12" stroke="#1a1a1a" stroke-width="1" fill="none"/>
<rect x="571.75" y="502.6" width="7.2" height="33.9" fill="#fff" stroke="#2a2a2a" stroke-width="1"/>
<path d="M575.35 499.69V505.52M572.95 499.69H577.75M572.95 505.52H577.75" stroke="#1a1a1a" stroke-width="1" fill="none"/>
<rect x="589.38" y="509.4" width="7.2" height="27.1" fill="#fff" stroke="#2a2a2a" stroke-width="1"/>
<path d="M592.98 503.09V515.72M590.58 503.09H595.38M590.58 515.72H595.38" stroke="#1a1a1a" stroke-width="1" fill="none"/>
<rect x="607.02" y="515.72" width="7.2" height="20.78" fill="#fff" stroke="#2a2a2a" stroke-width="1"/>
<path d="M610.62 514.26V517.17M608.22 514.26H613.02M608.22 517.17H613.02" stroke="#1a1a1a" stroke-width="1" fill="none"/>
<rect x="624.65" y="523.49" width="7.2" height="13.01" fill="#fff" stroke="#2a2a2a" stroke-width="1"/>
<path d="M628.25 518.14V528.83M625.85 518.14H630.65M625.85 528.83H630.65" stroke="#1a1a1a" stroke-width="1" fill="none"/>
<rect x="642.28" y="526.4" width="7.2" height="10.1" fill="#fff" stroke="#2a2a2a" stroke-width="1"/>
<path d="M645.88 522.03V530.77M643.48 522.03H648.28M643.48 530.77H648.28" stroke="#1a1a1a" stroke-width="1" fill="none"/>
<path d="M548.9 463.25V536.5" stroke="#6a6a6a" stroke-width="1.2" fill="none"/>
<path d="M546.4 536.5H654.5" stroke="#2a2a2a" stroke-width="1" fill="none"/>
<path d="M546.4 536.6H548.9" stroke="#555" stroke-width="1"/>
<text x="542" y="540" font-size="8.4" text-anchor="end">0</text>
<path d="M546.4 512.32H548.9" stroke="#555" stroke-width="1"/>
<text x="542" y="515.72" font-size="8.4" text-anchor="end">0.5</text>
<path d="M546.4 488.03H548.9" stroke="#555" stroke-width="1"/>
<text x="542" y="491.43" font-size="8.4" text-anchor="end">1</text>
<path d="M546.4 463.75H548.9" stroke="#555" stroke-width="1"/>
<text x="542" y="467.15" font-size="8.4" text-anchor="end">1.5</text>
<path d="M548.5 536.5V539.1" stroke="#555" stroke-width="1"/>
<path d="M566.5 536.5V539.1" stroke="#555" stroke-width="1"/>
<path d="M583.5 536.5V539.1" stroke="#555" stroke-width="1"/>
<path d="M601.5 536.5V539.1" stroke="#555" stroke-width="1"/>
<path d="M619.5 536.5V539.1" stroke="#555" stroke-width="1"/>
<path d="M636.5 536.5V539.1" stroke="#555" stroke-width="1"/>
<path d="M654.5 536.5V539.1" stroke="#555" stroke-width="1"/>
<text x="557.52" y="550.6" font-size="8.4" text-anchor="middle">0h</text>
<text x="575.15" y="550.6" font-size="8.4" text-anchor="middle">15’</text>
<text x="592.78" y="550.6" font-size="8.4" text-anchor="middle">30’</text>
<text x="610.42" y="550.6" font-size="8.4" text-anchor="middle">1h</text>
<text x="628.05" y="550.6" font-size="8.4" text-anchor="middle">4h</text>
<text x="645.68" y="550.6" font-size="8.4" text-anchor="middle">24h</text>
<text transform="translate(366.8 500.4) rotate(-90)" font-size="9.6" text-anchor="middle">Relative expression</text>
<text x="120" y="581.5" font-size="12.6" font-weight="bold"><tspan font-style="italic">MYB</tspan> (<tspan font-style="italic">Os03g0764600</tspan>)</text>
<rect x="59.84" y="665.99" width="7.7" height="2.51" fill="#000"/>
<path d="M63.69 665.49V665.99M61.69 665.49H65.69" stroke="#111" stroke-width="1" fill="none"/>
<rect x="77.93" y="657.96" width="7.7" height="10.54" fill="#000"/>
<path d="M81.78 654.19V657.96M79.78 654.19H83.78" stroke="#111" stroke-width="1" fill="none"/>
<rect x="96.01" y="634.36" width="7.7" height="34.14" fill="#000"/>
<path d="M99.86 625.33V634.36M97.86 625.33H101.86" stroke="#111" stroke-width="1" fill="none"/>
<rect x="114.09" y="627.34" width="7.7" height="41.16" fill="#000"/>
<path d="M117.94 622.32V627.34M115.94 622.32H119.94" stroke="#111" stroke-width="1" fill="none"/>
<rect x="132.18" y="632.11" width="7.7" height="36.39" fill="#000"/>
<path d="M136.03 622.32V632.11M134.03 622.32H138.03" stroke="#111" stroke-width="1" fill="none"/>
<rect x="150.26" y="613.28" width="7.7" height="55.22" fill="#000"/>
<path d="M154.11 608.26V613.28M152.11 608.26H156.11" stroke="#111" stroke-width="1" fill="none"/>
<path d="M54.5 592.7V668.5" stroke="#6a6a6a" stroke-width="1.2" fill="none"/>
<path d="M52 668.5H162.9" stroke="#2a2a2a" stroke-width="1" fill="none"/>
<path d="M52 668.5H54.5" stroke="#555" stroke-width="1"/>
<text x="49.3" y="671.9" font-size="8.4" text-anchor="end">0</text>
<path d="M52 643.4H54.5" stroke="#555" stroke-width="1"/>
<text x="49.3" y="646.8" font-size="8.4" text-anchor="end">10</text>
<path d="M52 618.3H54.5" stroke="#555" stroke-width="1"/>
<text x="49.3" y="621.7" font-size="8.4" text-anchor="end">20</text>
<path d="M52 593.2H54.5" stroke="#555" stroke-width="1"/>
<text x="49.3" y="596.6" font-size="8.4" text-anchor="end">30</text>
<path d="M54.5 668.5V671.1" stroke="#555" stroke-width="1"/>
<path d="M72.5 668.5V671.1" stroke="#555" stroke-width="1"/>
<path d="M90.5 668.5V671.1" stroke="#555" stroke-width="1"/>
<path d="M108.5 668.5V671.1" stroke="#555" stroke-width="1"/>
<path d="M126.5 668.5V671.1" stroke="#555" stroke-width="1"/>
<path d="M144.5 668.5V671.1" stroke="#555" stroke-width="1"/>
<path d="M162.5 668.5V671.1" stroke="#555" stroke-width="1"/>
<text x="63.44" y="682.5" font-size="8.4" text-anchor="middle">0h</text>
<text x="81.53" y="682.5" font-size="8.4" text-anchor="middle">15’</text>
<text x="99.61" y="682.5" font-size="8.4" text-anchor="middle">30’</text>
<text x="117.69" y="682.5" font-size="8.4" text-anchor="middle">1h</text>
<text x="135.78" y="682.5" font-size="8.4" text-anchor="middle">4h</text>
<text x="153.86" y="682.5" font-size="8.4" text-anchor="middle">24h</text>
<rect x="215.12" y="617.93" width="7.8" height="50.57" fill="#fff" stroke="#2a2a2a" stroke-width="1"/>
<path d="M219.02 615.41V620.45M216.62 615.41H221.42M216.62 620.45H221.42" stroke="#1a1a1a" stroke-width="1" fill="none"/>
<rect x="233.35" y="626.5" width="7.8" height="42" fill="#fff" stroke="#2a2a2a" stroke-width="1"/>
<path d="M237.25 622.47V630.52M234.85 622.47H239.65M234.85 630.52H239.65" stroke="#1a1a1a" stroke-width="1" fill="none"/>
<rect x="251.58" y="631.53" width="7.8" height="36.97" fill="#fff" stroke="#2a2a2a" stroke-width="1"/>
<path d="M255.48 624.98V638.08M253.08 624.98H257.88M253.08 638.08H257.88" stroke="#1a1a1a" stroke-width="1" fill="none"/>
<rect x="269.82" y="645.63" width="7.8" height="22.87" fill="#fff" stroke="#2a2a2a" stroke-width="1"/>
<path d="M273.72 641.61V649.66M271.32 641.61H276.12M271.32 649.66H276.12" stroke="#1a1a1a" stroke-width="1" fill="none"/>
<rect x="288.05" y="654.2" width="7.8" height="14.3" fill="#fff" stroke="#2a2a2a" stroke-width="1"/>
<path d="M291.95 651.18V657.22M289.55 651.18H294.35M289.55 657.22H294.35" stroke="#1a1a1a" stroke-width="1" fill="none"/>
<rect x="306.28" y="661.25" width="7.8" height="7.25" fill="#fff" stroke="#2a2a2a" stroke-width="1"/>
<path d="M310.18 659.74V662.76M307.78 659.74H312.58M307.78 662.76H312.58" stroke="#1a1a1a" stroke-width="1" fill="none"/>
<path d="M210 592.25V668.5" stroke="#6a6a6a" stroke-width="1.2" fill="none"/>
<path d="M207.5 668.5H318.5" stroke="#2a2a2a" stroke-width="1" fill="none"/>
<path d="M207.5 668.3H210" stroke="#555" stroke-width="1"/>
<text x="202.5" y="671.7" font-size="8.4" text-anchor="end">0</text>
<path d="M207.5 643.12H210" stroke="#555" stroke-width="1"/>
<text x="202.5" y="646.52" font-size="8.4" text-anchor="end">0.5</text>
<path d="M207.5 617.93H210" stroke="#555" stroke-width="1"/>
<text x="202.5" y="621.33" font-size="8.4" text-anchor="end">1</text>
<path d="M207.5 592.75H210" stroke="#555" stroke-width="1"/>
<text x="202.5" y="596.15" font-size="8.4" text-anchor="end">1.5</text>
<path d="M209.5 668.5V671.1" stroke="#555" stroke-width="1"/>
<path d="M227.5 668.5V671.1" stroke="#555" stroke-width="1"/>
<path d="M245.5 668.5V671.1" stroke="#555" stroke-width="1"/>
<path d="M263.5 668.5V671.1" stroke="#555" stroke-width="1"/>
<path d="M282.5 668.5V671.1" stroke="#555" stroke-width="1"/>
<path d="M300.5 668.5V671.1" stroke="#555" stroke-width="1"/>
<path d="M318.5 668.5V671.1" stroke="#555" stroke-width="1"/>
<text x="218.22" y="682.3" font-size="8.4" text-anchor="middle">0h</text>
<text x="236.45" y="682.3" font-size="8.4" text-anchor="middle">15’</text>
<text x="254.68" y="682.3" font-size="8.4" text-anchor="middle">30’</text>
<text x="272.92" y="682.3" font-size="8.4" text-anchor="middle">1h</text>
<text x="291.15" y="682.3" font-size="8.4" text-anchor="middle">4h</text>
<text x="309.38" y="682.3" font-size="8.4" text-anchor="middle">24h</text>
<text transform="translate(27.3 632.6) rotate(-90)" font-size="9.6" text-anchor="middle">Relative expression</text>
<text x="440" y="581.5" font-size="12.6" font-weight="bold"><tspan font-style="italic">CIPK14</tspan> (<tspan font-style="italic">Os12g0113500</tspan>)</text>
<rect x="399.31" y="667.35" width="7.6" height="1.15" fill="#000"/>
<path d="M403.11 666.97V667.35M401.11 666.97H405.11" stroke="#111" stroke-width="1" fill="none"/>
<rect x="417.32" y="666.35" width="7.6" height="2.15" fill="#000"/>
<path d="M421.12 665.97V666.35M419.12 665.97H423.12" stroke="#111" stroke-width="1" fill="none"/>
<rect x="435.34" y="661.09" width="7.6" height="7.41" fill="#000"/>
<path d="M439.14 659.21V661.09M437.14 659.21H441.14" stroke="#111" stroke-width="1" fill="none"/>
<rect x="453.36" y="655.58" width="7.6" height="12.92" fill="#000"/>
<path d="M457.16 654.58V655.58M455.16 654.58H459.16" stroke="#111" stroke-width="1" fill="none"/>
<rect x="471.38" y="614.9" width="7.6" height="53.6" fill="#000"/>
<path d="M475.18 609.27V614.9M473.18 609.27H477.18" stroke="#111" stroke-width="1" fill="none"/>
<rect x="489.39" y="627.67" width="7.6" height="40.83" fill="#000"/>
<path d="M493.19 623.29V627.67M491.19 623.29H495.19" stroke="#111" stroke-width="1" fill="none"/>
<path d="M394.5 593V668.5" stroke="#6a6a6a" stroke-width="1.2" fill="none"/>
<path d="M392 668.5H502.5" stroke="#2a2a2a" stroke-width="1" fill="none"/>
<path d="M392 668.6H394.5" stroke="#555" stroke-width="1"/>
<text x="388.3" y="672" font-size="8.4" text-anchor="end">0</text>
<path d="M392 643.57H394.5" stroke="#555" stroke-width="1"/>
<text x="388.3" y="646.97" font-size="8.4" text-anchor="end">20</text>
<path d="M392 618.53H394.5" stroke="#555" stroke-width="1"/>
<text x="388.3" y="621.93" font-size="8.4" text-anchor="end">40</text>
<path d="M392 593.5H394.5" stroke="#555" stroke-width="1"/>
<text x="388.3" y="596.9" font-size="8.4" text-anchor="end">60</text>
<path d="M394.5 668.5V671.1" stroke="#555" stroke-width="1"/>
<path d="M412.5 668.5V671.1" stroke="#555" stroke-width="1"/>
<path d="M430.5 668.5V671.1" stroke="#555" stroke-width="1"/>
<path d="M448.5 668.5V671.1" stroke="#555" stroke-width="1"/>
<path d="M466.5 668.5V671.1" stroke="#555" stroke-width="1"/>
<path d="M484.5 668.5V671.1" stroke="#555" stroke-width="1"/>
<path d="M502.5 668.5V671.1" stroke="#555" stroke-width="1"/>
<text x="403.41" y="682.6" font-size="8.4" text-anchor="middle">0h</text>
<text x="421.42" y="682.6" font-size="8.4" text-anchor="middle">15’</text>
<text x="439.44" y="682.6" font-size="8.4" text-anchor="middle">30’</text>
<text x="457.46" y="682.6" font-size="8.4" text-anchor="middle">1h</text>
<text x="475.48" y="682.6" font-size="8.4" text-anchor="middle">4h</text>
<text x="493.49" y="682.6" font-size="8.4" text-anchor="middle">24h</text>
<rect x="554.44" y="631.7" width="7" height="37.8" fill="#fff" stroke="#2a2a2a" stroke-width="1"/>
<path d="M557.94 626.8V636.6M555.54 626.8H560.34M555.54 636.6H560.34" stroke="#1a1a1a" stroke-width="1" fill="none"/>
<rect x="572.53" y="599.65" width="7" height="69.85" fill="#fff" stroke="#2a2a2a" stroke-width="1"/>
<path d="M576.03 597.02V602.29M573.63 597.02H578.43M573.63 602.29H578.43" stroke="#1a1a1a" stroke-width="1" fill="none"/>
<rect x="590.61" y="611.34" width="7" height="58.16" fill="#fff" stroke="#2a2a2a" stroke-width="1"/>
<path d="M594.11 609.08V613.6M591.71 609.08H596.51M591.71 613.6H596.51" stroke="#1a1a1a" stroke-width="1" fill="none"/>
<rect x="608.69" y="653.19" width="7" height="16.31" fill="#fff" stroke="#2a2a2a" stroke-width="1"/>
<path d="M612.19 650.93V655.45M609.79 650.93H614.59M609.79 655.45H614.59" stroke="#1a1a1a" stroke-width="1" fill="none"/>
<rect x="626.78" y="659.98" width="7" height="9.52" fill="#fff" stroke="#2a2a2a" stroke-width="1"/>
<path d="M630.28 658.47V661.48M627.88 658.47H632.68M627.88 661.48H632.68" stroke="#1a1a1a" stroke-width="1" fill="none"/>
<rect x="644.86" y="666.38" width="7" height="3.12" fill="#fff" stroke="#2a2a2a" stroke-width="1"/>
<path d="M648.36 664.5V668.27M645.96 664.5H650.76M645.96 668.27H650.76" stroke="#1a1a1a" stroke-width="1" fill="none"/>
<path d="M549 593.5V669.5" stroke="#6a6a6a" stroke-width="1.2" fill="none"/>
<path d="M546.5 669.5H656.7" stroke="#2a2a2a" stroke-width="1" fill="none"/>
<path d="M546.5 669.4H549" stroke="#555" stroke-width="1"/>
<text x="542" y="672.8" font-size="8.4" text-anchor="end">0</text>
<path d="M546.5 650.55H549" stroke="#555" stroke-width="1"/>
<text x="542" y="653.95" font-size="8.4" text-anchor="end">0.5</text>
<path d="M546.5 631.7H549" stroke="#555" stroke-width="1"/>
<text x="542" y="635.1" font-size="8.4" text-anchor="end">1</text>
<path d="M546.5 612.85H549" stroke="#555" stroke-width="1"/>
<text x="542" y="616.25" font-size="8.4" text-anchor="end">1.5</text>
<path d="M546.5 594H549" stroke="#555" stroke-width="1"/>
<text x="542" y="597.4" font-size="8.4" text-anchor="end">2</text>
<path d="M548.5 669.5V672.1" stroke="#555" stroke-width="1"/>
<path d="M566.5 669.5V672.1" stroke="#555" stroke-width="1"/>
<path d="M584.5 669.5V672.1" stroke="#555" stroke-width="1"/>
<path d="M602.5 669.5V672.1" stroke="#555" stroke-width="1"/>
<path d="M620.5 669.5V672.1" stroke="#555" stroke-width="1"/>
<path d="M638.5 669.5V672.1" stroke="#555" stroke-width="1"/>
<path d="M656.5 669.5V672.1" stroke="#555" stroke-width="1"/>
<text x="557.24" y="683.4" font-size="8.4" text-anchor="middle">0h</text>
<text x="575.33" y="683.4" font-size="8.4" text-anchor="middle">15’</text>
<text x="593.41" y="683.4" font-size="8.4" text-anchor="middle">30’</text>
<text x="611.49" y="683.4" font-size="8.4" text-anchor="middle">1h</text>
<text x="629.58" y="683.4" font-size="8.4" text-anchor="middle">4h</text>
<text x="647.66" y="683.4" font-size="8.4" text-anchor="middle">24h</text>
<text transform="translate(366.8 632.6) rotate(-90)" font-size="9.6" text-anchor="middle">Relative expression</text>
</svg>
</body></html>
